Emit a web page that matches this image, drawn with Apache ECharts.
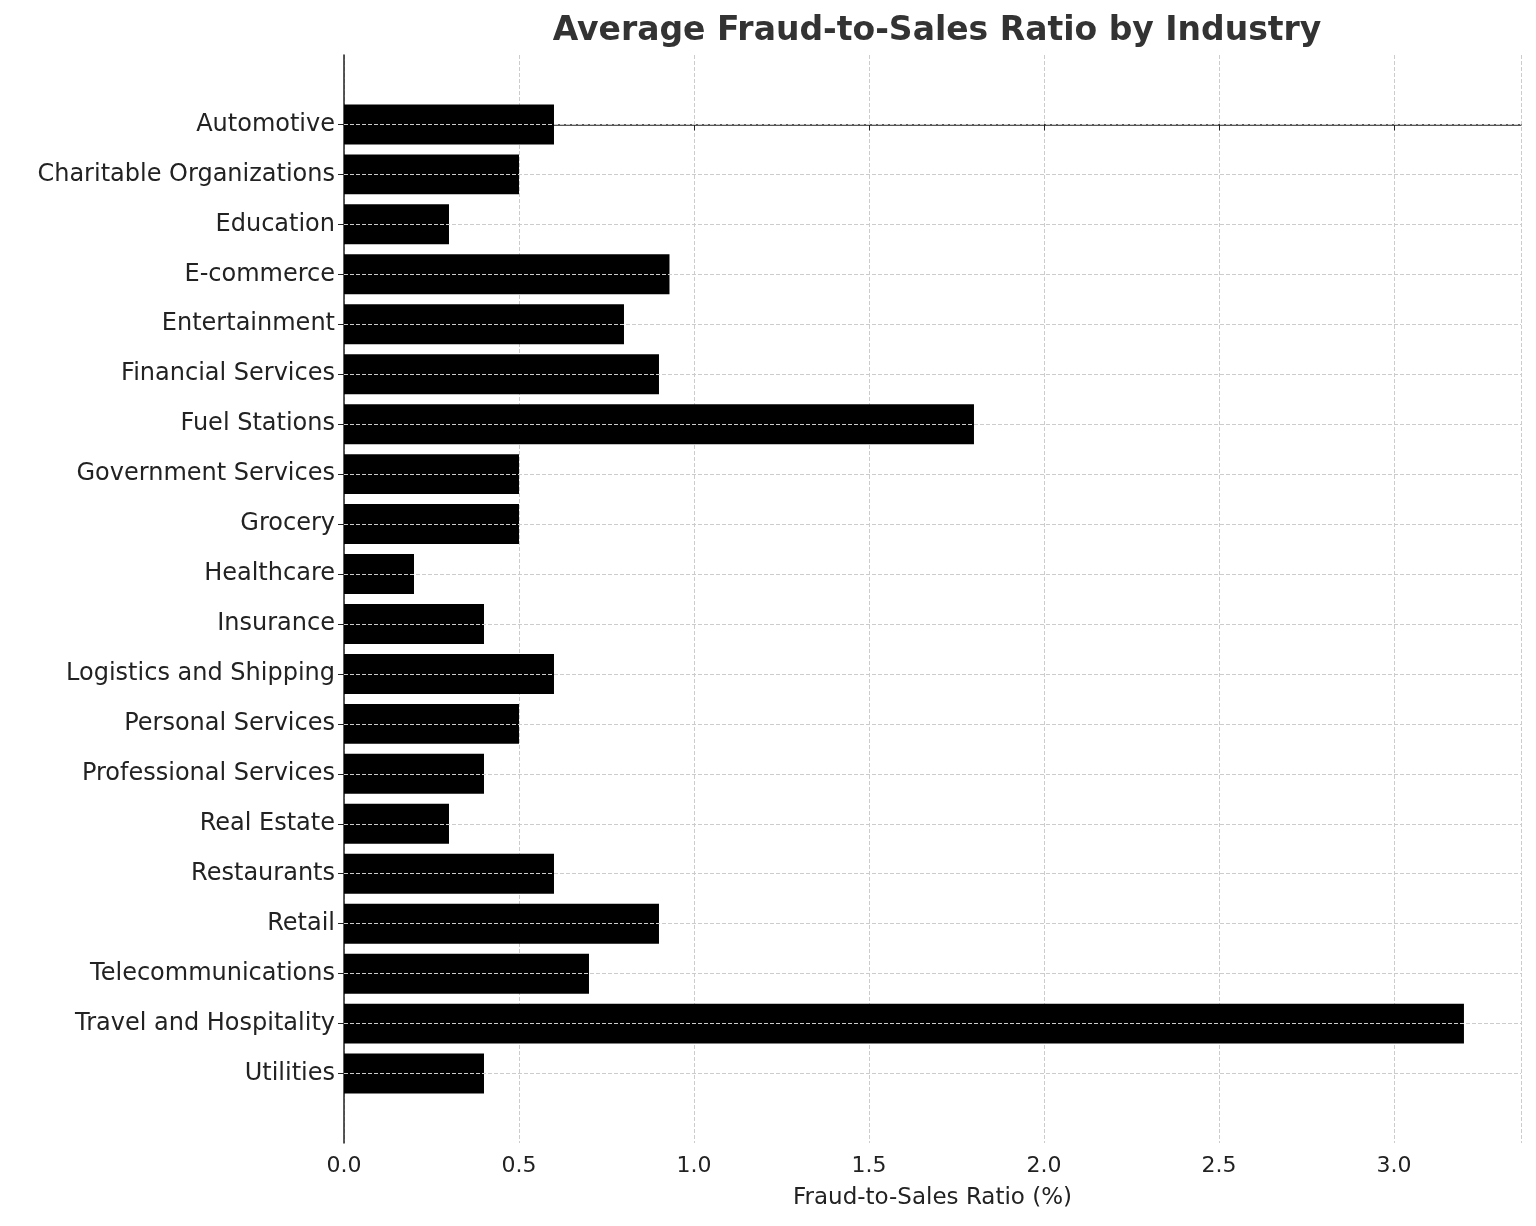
<!DOCTYPE html>
<html><head><meta charset="utf-8">
<script src="https://cdn.jsdelivr.net/npm/echarts@6/dist/echarts.min.js"></script>
<style>html,body{margin:0;background:#fff}#c{width:1536px;height:1226px}</style>
</head><body><div id="c"></div>
<script>
var industries = ['Automotive', 'Charitable Organizations', 'Education', 'E-commerce', 'Entertainment',
  'Financial Services', 'Fuel Stations', 'Government Services', 'Grocery', 'Healthcare', 'Insurance',
  'Logistics and Shipping', 'Personal Services', 'Professional Services', 'Real Estate', 'Restaurants',
  'Retail', 'Telecommunications', 'Travel and Hospitality', 'Utilities'];
var ratios = [0.6, 0.5, 0.3, 0.93, 0.8, 0.9, 1.8, 0.5, 0.5, 0.2, 0.4, 0.6, 0.5, 0.4, 0.3, 0.6, 0.9, 0.7, 3.2, 0.4];

var positions = industries.map(function (n, i) { return i; });
var font = 'DejaVu Sans';
var chart = echarts.init(document.getElementById('c'));
chart.setOption({
  animation: false,
  textStyle: { fontFamily: font },
  title: {
    text: 'Average Fraud-to-Sales Ratio by Industry', left: 932, top: 10, textAlign: 'center',
    textStyle: { fontSize: 33, fontWeight: 'bold', color: '#333', fontFamily: font }
  },
  grid: { left: 344, right: 15, top: 55, bottom: 83, containLabel: false },
  xAxis: {
    type: 'value', min: 0, max: 3.363, interval: 0.5,
    name: 'Fraud-to-Sales Ratio (%)', nameLocation: 'middle', nameGap: 44,
    nameTextStyle: { fontSize: 23, color: '#222' },
    axisLine: { show: true, lineStyle: { color: '#222', width: 1.5 } },
    axisTick: { show: true, length: 6, lineStyle: { color: '#222' } },
    axisLabel: { fontSize: 22, color: '#222', margin: 12, showMaxLabel: false,
      formatter: function (v) { return v.toFixed(1); } },
    splitLine: { show: true, lineStyle: { type: 'dashed', color: '#ccc' } }
  },
  yAxis: {
    type: 'value', inverse: true, min: -1.39, max: 20.39,
    axisLine: { show: true, lineStyle: { color: '#222', width: 1.5 } },
    axisTick: { show: true, length: 6, customValues: positions, lineStyle: { color: '#222' } },
    axisLabel: { fontSize: 24, color: '#222', margin: 9, customValues: positions,
      formatter: function (v) { return industries[Math.round(v)]; } },
    splitLine: { show: false }
  },
  series: [{
    type: 'custom',
    data: ratios.map(function (v, i) { return [v, i]; }),
    renderItem: function (params, api) {
      var p0 = api.coord([0, api.value(1) - 0.4]);
      var p1 = api.coord([api.value(0), api.value(1) + 0.4]);
      return { type: 'rect', shape: { x: p0[0], y: Math.min(p0[1], p1[1]),
        width: p1[0] - p0[0], height: Math.abs(p1[1] - p0[1]) }, style: { fill: '#000' } };
    },
    encode: { x: 0, y: 1 },
    markLine: {
      silent: true, symbol: 'none', label: { show: false },
      lineStyle: { type: 'dashed', color: '#ccc', width: 1 },
      data: positions.map(function (p) { return { yAxis: p }; })
    },
    z: 3
  }]
});
</script></body></html>
